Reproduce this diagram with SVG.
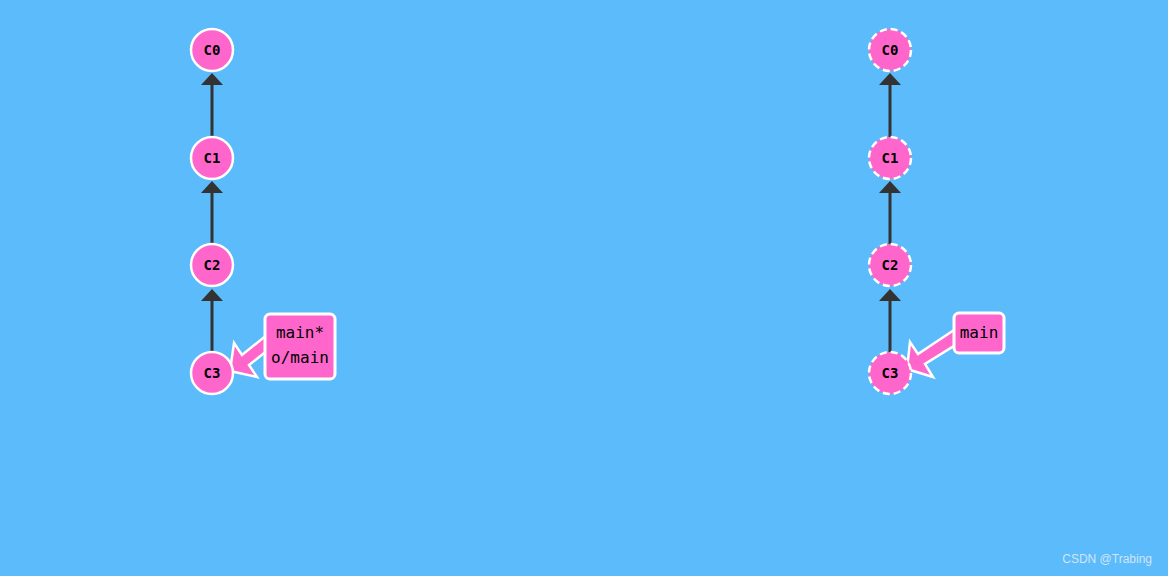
<svg xmlns="http://www.w3.org/2000/svg" width="1168" height="576" viewBox="0 0 1168 576">
<style>
.bg{fill:#5cbbfb}
.c{fill:#ff66cc;stroke:#fff;stroke-width:2.5}
.d{stroke-dasharray:7 4}
.ct{font-family:"DejaVu Sans Mono",monospace;font-weight:bold;font-size:14px;fill:#000;text-anchor:middle}
.e{stroke:#333;stroke-width:3;fill:none}
.h{fill:#333}
.lb{fill:#ff66cc;stroke:#fff;stroke-width:3}
.lt{font-family:"DejaVu Sans Mono",monospace;font-size:16px;fill:#000;text-anchor:middle}
.pa{fill:#ff66cc;stroke:#fff;stroke-width:2.5;stroke-linejoin:miter}
</style>
<rect class="bg" x="0" y="0" width="1168" height="576"/>
<g id="connectors">
<line class="e" x1="212" y1="352" x2="212" y2="299"/>
<polygon class="h" points="212,289 201,301 223,301"/>
<line class="e" x1="212" y1="244" x2="212" y2="191"/>
<polygon class="h" points="212,181 201,193 223,193"/>
<line class="e" x1="212" y1="137" x2="212" y2="83"/>
<polygon class="h" points="212,73 201,85 223,85"/>
<line class="e" x1="890" y1="352" x2="890" y2="299"/>
<polygon class="h" points="890,289 879,301 901,301"/>
<line class="e" x1="890" y1="244" x2="890" y2="191"/>
<polygon class="h" points="890,181 879,193 901,193"/>
<line class="e" x1="890" y1="137" x2="890" y2="83"/>
<polygon class="h" points="890,73 879,85 901,85"/>
<polygon class="pa" points="230,371 234,343 242,355 268,334 268,350 249,365 257,377"/>
<polygon class="pa" points="907,369 910,342 918,354 957,328 957,344 925,364 933,377"/>
</g>
<g id="C0"><circle class="c" cx="212" cy="50" r="21"/><text class="ct" x="212" y="55">C0</text></g>
<g id="C1"><circle class="c" cx="212" cy="158" r="21"/><text class="ct" x="212" y="163">C1</text></g>
<g id="C2"><circle class="c" cx="212" cy="265" r="21"/><text class="ct" x="212" y="270">C2</text></g>
<g id="C3"><circle class="c" cx="212" cy="373" r="21"/><text class="ct" x="212" y="378">C3</text></g>
<g id="label-left"><rect class="lb" x="265" y="314" width="70" height="65" rx="5"/><text class="lt" x="300" y="338">main*</text><text class="lt" x="300" y="363">o/main</text></g>
<g id="R-C0"><circle class="c d" cx="890" cy="50" r="21"/><text class="ct" x="890" y="55">C0</text></g>
<g id="R-C1"><circle class="c d" cx="890" cy="158" r="21"/><text class="ct" x="890" y="163">C1</text></g>
<g id="R-C2"><circle class="c d" cx="890" cy="265" r="21"/><text class="ct" x="890" y="270">C2</text></g>
<g id="R-C3"><circle class="c d" cx="890" cy="373" r="21"/><text class="ct" x="890" y="378">C3</text></g>
<g id="label-right"><rect class="lb" x="954" y="313" width="50" height="40" rx="5"/><text class="lt" x="979" y="338">main</text></g>
<text x="1152" y="563" font-family="Liberation Sans, sans-serif" font-size="12" fill="#e6eef5" fill-opacity="0.85" text-anchor="end">CSDN @Trabing</text>
</svg>
